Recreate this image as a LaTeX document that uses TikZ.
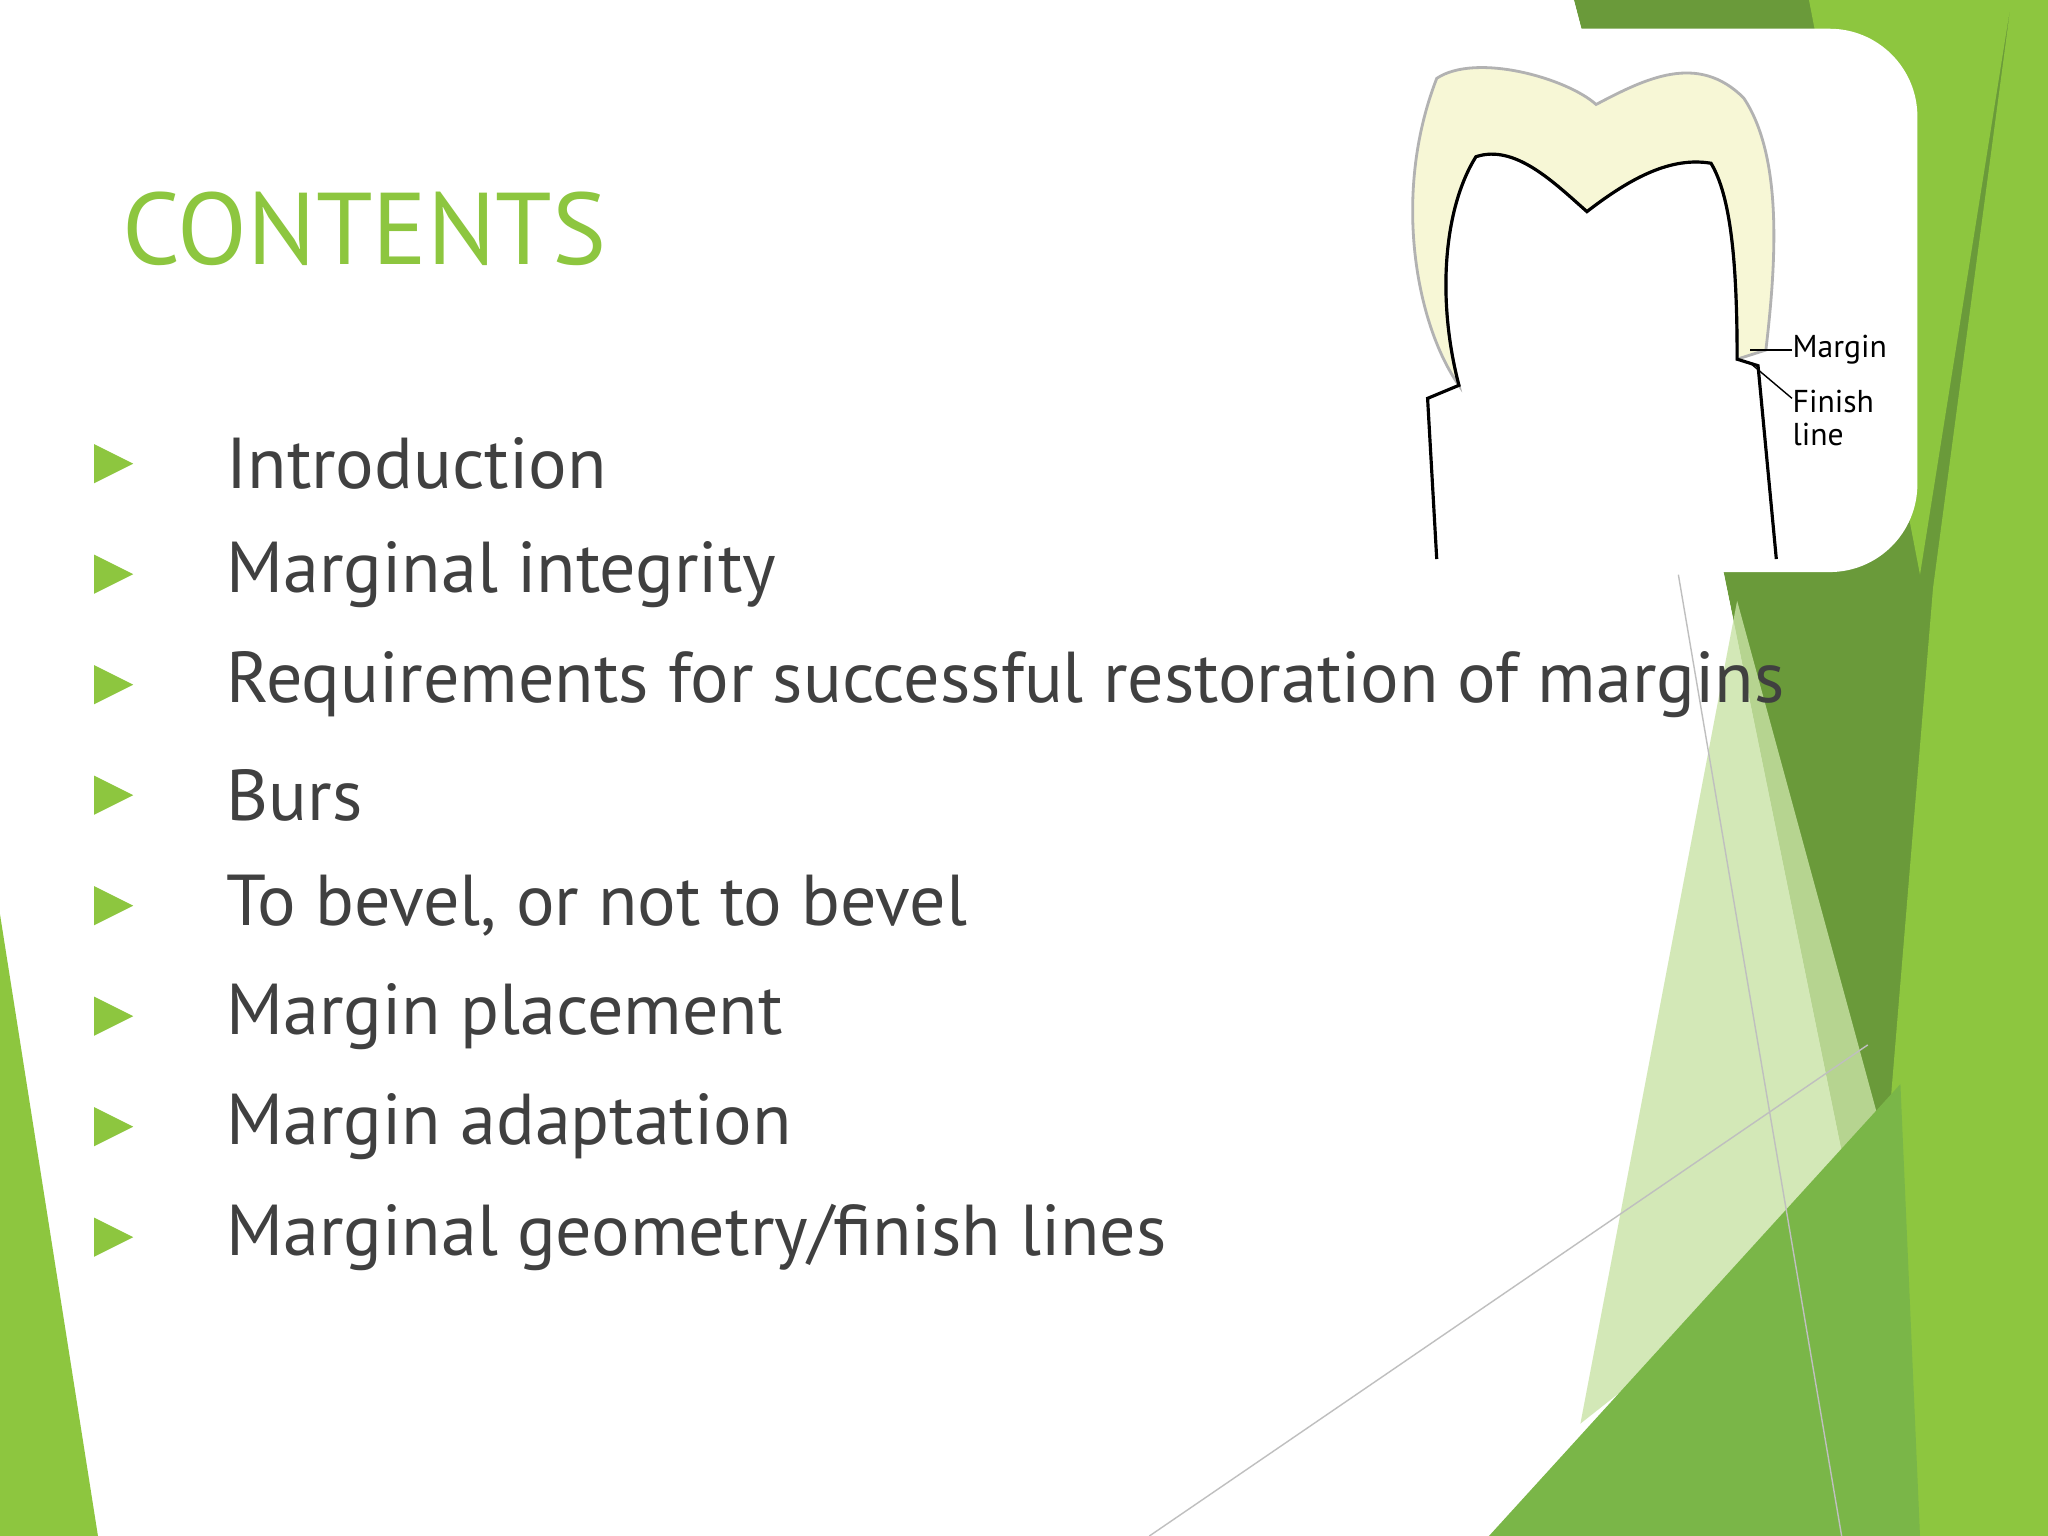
\documentclass[tikz,border=0pt]{standalone}
\usepackage{fontspec}
\setmainfont{PT Sans}
\definecolor{lg}{HTML}{8DC63F}
\definecolor{dg}{HTML}{6A9A3A}
\definecolor{mg}{HTML}{7AB648}
\definecolor{pg}{HTML}{C9E3A6}
\definecolor{txt}{HTML}{404040}
\definecolor{enamel}{HTML}{F7F7D6}
\begin{document}
\begin{tikzpicture}[x=0.013061cm,y=-0.013061cm,
  item/.style={anchor=west,text=txt,font=\fontsize{20.5}{24}\selectfont,inner sep=0},
  bul/.style={fill=lg}]
\useasboundingbox (0,0) rectangle (1568,1176);
\fill[white] (0,0) rectangle (1568,1176);
% background shapes
\fill[dg] (1205,0)--(1568,0)--(1568,1176)--(1470,1176)--(1320,440)--(1205,0)--cycle;
\fill[white] (1205,0)--(1320,440)--(1470,1176)--(1150,1176)--cycle;
\fill[lg] (1385,0)--(1540,0)--(1480,450)--(1420,1176)--(1568,1176)--(1568,0)--(1540,0)--(1470,440)--cycle;
\fill[lg] (1540,0)--(1568,0)--(1568,1176)--(1410,1176)--(1475,620)--cycle;
\fill[pg,opacity=0.8] (1210,1090)--(1330,460)--(1450,900)--cycle;
\fill[mg] (1140,1176)--(1455,830)--(1470,1176)--cycle;
\fill[lg] (0,700)--(75,1176)--(0,1176)--cycle;
\draw[gray!50,thin] (1285,440)--(1410,1176);
\draw[gray!50,thin] (880,1176)--(1430,800);
% card
\fill[white,rounded corners=25] (1040,22) rectangle (1468,438);
% tooth
\fill[enamel,draw=gray!60,line width=0.8] (1117,295)..controls (1085,250) and (1065,150) .. (1100,60)
 ..controls (1130,40) and (1200,60) .. (1222,80) ..controls (1260,60) and (1300,40) .. (1335,75)
 ..controls (1365,120) and (1360,200) .. (1352,268)--(1330,275)..controls (1330,200) and (1325,150) .. (1310,125)
 ..controls (1280,120) and (1250,135) .. (1215,162) ..controls (1190,140) and (1160,110) .. (1130,120)
 ..controls (1105,160) and (1100,230) .. (1117,295)--cycle;
\draw[black,line width=0.9] (1100,428)--(1093,305)--(1117,295) ..controls (1100,230) and (1105,160) .. (1130,120)
 ..controls (1160,110) and (1190,140) .. (1215,162) ..controls (1250,135) and (1280,120) .. (1310,125)
 ..controls (1325,150) and (1330,200) .. (1330,275)--(1346,280)--(1360,428);
\node[anchor=west,inner sep=0,font=\fontsize{9}{10}\selectfont] (mar) at (1372,268) {Margin};
\node[anchor=north west,inner sep=0,font=\fontsize{9}{9.5}\selectfont,align=left] (fin) at (1372,298) {Finish\\line};
\draw[thin] (mar.west)--(1340,268);
\draw[thin] (1372,305)--(1340,278);
% title
\node[anchor=west,text=lg,inner sep=0,font=\fontsize{29}{34}\selectfont] (title) at (93,175) {CONTENTS};
\foreach \t [count=\i] in {Introduction,Marginal integrity,Requirements for successful restoration of margins,Burs,{To bevel, or not to bevel},Margin placement,Margin adaptation,Marginal geometry/finish lines}{
  \pgfmathsetmacro\yy{355+84.6*(\i-1)}
  \fill[lg] (72,\yy-15)--(102,\yy)--(72,\yy+15)--cycle;
  \node[item] (it\i) at (173,\yy) {\t};
}
\end{tikzpicture}
\end{document}
